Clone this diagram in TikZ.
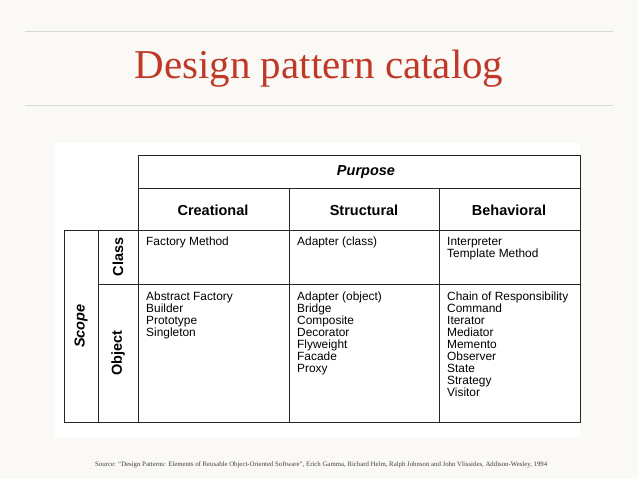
\documentclass[tikz,border=0pt]{standalone}
\usepackage{fontspec}
\setmainfont{Liberation Serif}
\setsansfont{Liberation Sans}
\begin{document}
\begin{tikzpicture}[x=1pt,y=-1pt,
  cell/.style={font=\sffamily\fontsize{11.9}{12}\selectfont,anchor=north west,align=left,inner sep=0pt},
  head/.style={font=\sffamily\bfseries\fontsize{14.5}{14}\selectfont,inner sep=0pt},
  grid/.style={line width=1pt,draw=black!85}]
\useasboundingbox[fill={rgb,255:red,251;green,249;blue,245}] (0,0) rectangle (638,479);
\draw[black!15] (25,31) -- (613,31);
\draw[black!15] (25,105) -- (613,105);
\node[text={rgb,255:red,192;green,57;blue,40},font=\fontsize{41}{42}\selectfont] (title) at (319,69) {Design pattern catalog};
\fill[white] (55,143) rectangle (580,437);
% grid
\draw[grid] (138,155) rectangle (580,422);
\draw[grid] (138,188) -- (580,188);
\draw[grid] (64,230) -- (580,230);
\draw[grid] (98,284) -- (580,284);
\draw[grid] (64,230) -- (64,422) -- (138,422);
\draw[grid] (98,230) -- (98,422);
\draw[grid] (289,188) -- (289,422);
\draw[grid] (439,188) -- (439,422);
\node[head,font=\sffamily\bfseries\itshape\fontsize{14.5}{14}\selectfont] (purpose) at (366,172) {Purpose};
\node[head] (cre) at (213,210) {Creational};
\node[head] (str) at (364,210) {Structural};
\node[head] (beh) at (509,210) {Behavioral};
\node[head,rotate=90,font=\sffamily\bfseries\itshape\fontsize{14.5}{14}\selectfont] (scope) at (81,326) {Scope};
\node[head,rotate=90] (class) at (118,257) {Class};
\node[head,rotate=90] (object) at (118,353) {Object};
\node[cell] (c1) at (146,237) {Factory Method};
\node[cell] (c2) at (297,237) {Adapter (class)};
\node[cell] (c3) at (447,237) {Interpreter\\Template Method};
\node[cell] (o1) at (146,292) {Abstract Factory\\Builder\\Prototype\\Singleton};
\node[cell] (o2) at (297,292) {Adapter (object)\\Bridge\\Composite\\Decorator\\Flyweight\\Facade\\Proxy};
\node[cell] (o3) at (447,292) {Chain of Responsibility\\Command\\Iterator\\Mediator\\Memento\\Observer\\State\\Strategy\\Visitor};
\node[anchor=west,inner sep=0pt,text=black!75,font=\fontsize{6.8}{7}\selectfont] (src) at (95,465) {Source: ``Design Patterns: Elements of Reusable Object-Oriented Software'', Erich Gamma, Richard Helm, Ralph Johnson and John Vlissides, Addison-Wesley, 1994};
\end{tikzpicture}
\end{document}
